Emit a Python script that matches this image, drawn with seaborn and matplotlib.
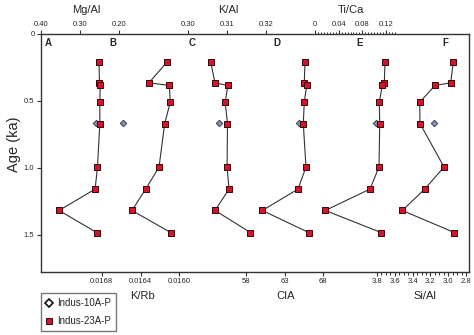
import numpy as np
import pandas as pd
import matplotlib
matplotlib.use("Agg")
import matplotlib.pyplot as plt
import seaborn as sns
from matplotlib.lines import Line2D
from matplotlib.ticker import FixedLocator

# ---------------- data ----------------
ages_23a = [0.21, 0.365, 0.385, 0.51, 0.67, 0.995, 1.16, 1.32, 1.485]
age_10a = 0.665

mg_al_23a = [0.251, 0.250, 0.248, 0.249, 0.249, 0.255, 0.261, 0.353, 0.257]
mg_al_10a = 0.259

k_rb_23a = [0.016127, 0.016313, 0.016103, 0.016093, 0.016151, 0.016209, 0.016347, 0.016488, 0.016089]
k_rb_10a = 0.016581

k_al_23a = [0.3059, 0.3070, 0.3103, 0.3096, 0.3102, 0.3101, 0.3106, 0.3070, 0.3161]
k_al_10a = 0.3080

cia_23a = [65.63, 65.54, 65.85, 65.54, 65.41, 65.76, 64.73, 60.11, 66.11]
cia_10a = 64.86

ti_ca_23a = [0.1182, 0.1171, 0.1137, 0.1086, 0.1093, 0.1081, 0.0929, 0.0174, 0.1115]
ti_ca_10a = 0.1035

si_al_23a = [2.943, 2.972, 3.148, 3.320, 3.317, 3.047, 3.264, 3.516, 2.931]
si_al_10a = 3.160

panel_letters = ["A", "B", "C", "D", "E", "F"]
y_ticks = [0, 0.5, 1.0, 1.5]
y_ticklabels = ["0", "0.5", "1.0", "1.5"]

# ---------------- style ----------------
sns.set_style("ticks")
plt.rcParams["font.family"] = ["Liberation Sans", "DejaVu Sans"]

W, H = 474, 335
fig = plt.figure(figsize=(W / 100, H / 100), dpi=100)

L, R, T, B = 40.7, 468.7, 34.0, 271.7
rect = [L / W, 1 - B / H, (R - L) / W, (B - T) / H]

spine_col = "#333333"
red = "#d3142c"
red_edge = "#3a0505"
blue = "#8391b8"
blue_edge = "#2c3040"
line_col = "#333333"
tick_fs = 5.5
ylim = (1.778, 0)

ax0 = fig.add_axes(rect)
ax0.set_ylim(*ylim)
ax0.set_xlim(0, 1)
ax0.set_xticks([])
ax0.set_yticks(y_ticks)
ax0.set_yticklabels(y_ticklabels, fontsize=tick_fs)
ax0.tick_params(axis="y", direction="out", length=3, width=0.8, pad=1.5, color=spine_col)
for s in ax0.spines.values():
    s.set_visible(True)
    s.set_color(spine_col)
    s.set_linewidth(1.0)
ax0.set_ylabel("Age (ka)", fontsize=10.5)
ax0.yaxis.set_label_coords((14 - L) / (R - L), (B - 144) / (B - T))
ax0.yaxis.label.set_verticalalignment("center")

panels = [
    (mg_al_23a, mg_al_10a, (0.40, -0.6932), "top", [0.40, 0.30, 0.20], ["0.40", "0.30", "0.20"], None, "Mg/Al", 86),
    (k_rb_23a, k_rb_10a, (0.017429, 0.013017), "bottom", [0.0168, 0.0164, 0.0160], ["0.0168", "0.0164", "0.0160"], None, "K/Rb", 142.5),
    (k_al_23a, k_al_10a, (0.26231, 0.37205), "top", [0.30, 0.31, 0.32], ["0.30", "0.31", "0.32"], None, "K/Al", 228),
    (cia_23a, cia_10a, (31.44, 86.81), "bottom", [58, 63, 68], ["58", "63", "68"], None, "CIA", 285.5),
    (ti_ca_23a, ti_ca_10a, (-0.46334, 0.25963), "top", [0, 0.04, 0.08, 0.12], ["0", "0.04", "0.08", "0.12"],
     list(np.round(np.arange(0, 0.1351, 0.005), 4)), "Ti/Ca", 350.5),
    (si_al_23a, si_al_10a, (7.5787, 2.7697), "bottom", [3.8, 3.6, 3.4, 3.2, 3.0, 2.8], ["3.8", "3.6", "3.4", "3.2", "3.0", "2.8"],
     list(np.round(np.arange(2.8, 3.801, 0.05), 3)), "Si/Al", 425),
]
letter_x = [48.7, 113.3, 192, 276.7, 360, 445]

for i, (vals, dval, xl, side, ticks, tlabels, minor, lab, lab_x) in enumerate(panels):
    ax = fig.add_axes(rect, facecolor="none", zorder=2 + i)
    df = pd.DataFrame({"x": vals, "age": ages_23a})
    sns.lineplot(data=df, x="x", y="age", sort=False, estimator=None, color=line_col,
                 linewidth=0.8, ax=ax, zorder=1)
    sns.scatterplot(data=df, x="x", y="age", marker="s", s=22, color=red, edgecolor=red_edge,
                    linewidth=0.7, ax=ax, zorder=3)
    sns.scatterplot(x=[dval], y=[age_10a], marker="D", s=11, color=blue, edgecolor=blue_edge,
                    linewidth=0.6, ax=ax, zorder=2)
    ax.set_xlim(*xl)
    ax.set_ylim(*ylim)
    for s in ax.spines.values():
        s.set_visible(False)
    ax.set_yticks([])
    ax.set_ylabel("")
    ax.xaxis.set_ticks_position(side)
    ax.xaxis.set_major_locator(FixedLocator(ticks))
    ax.set_xticklabels(tlabels, fontsize=tick_fs)
    if minor is not None:
        ax.xaxis.set_minor_locator(FixedLocator(minor))
        ax.tick_params(axis="x", which="minor", direction="out", length=1.8, width=0.7, color=spine_col)
    ax.tick_params(axis="x", which="major", direction="out", length=3, width=0.8,
                   pad=1.2 if side == "bottom" else 1.5, color=spine_col)
    ax.set_xlabel(lab, fontsize=8)
    ax.xaxis.set_label_position(side)
    ly = (B - 10) / (B - T) if side == "top" else (B - 295.7) / (B - T)
    ax.xaxis.set_label_coords((lab_x - L) / (R - L), ly)
    ax.xaxis.label.set_verticalalignment("center")
    ax.text((letter_x[i] - L) / (R - L), (B - 43.3) / (B - T), panel_letters[i],
            transform=ax.transAxes, ha="center", va="center", fontsize=7, fontweight="bold")

handles = [
    Line2D([], [], marker="D", linestyle="none", markersize=3.6, markerfacecolor="white",
           markeredgecolor="#111111", markeredgewidth=1.2, label="Indus-10A-P"),
    Line2D([], [], marker="s", linestyle="none", markersize=5, markerfacecolor=red,
           markeredgecolor=red_edge, markeredgewidth=0.7, label="Indus-23A-P"),
]
leg = fig.legend(handles=handles, loc="upper left", bbox_to_anchor=(L / W, 1 - 293.3 / H),
                 fontsize=7, frameon=True, fancybox=False, edgecolor="#555555",
                 handlelength=0.8, handletextpad=0.4, borderpad=0.5, labelspacing=0.8,
                 borderaxespad=0)
leg.get_frame().set_linewidth(1.0)

fig.savefig("out.png", dpi=100)
